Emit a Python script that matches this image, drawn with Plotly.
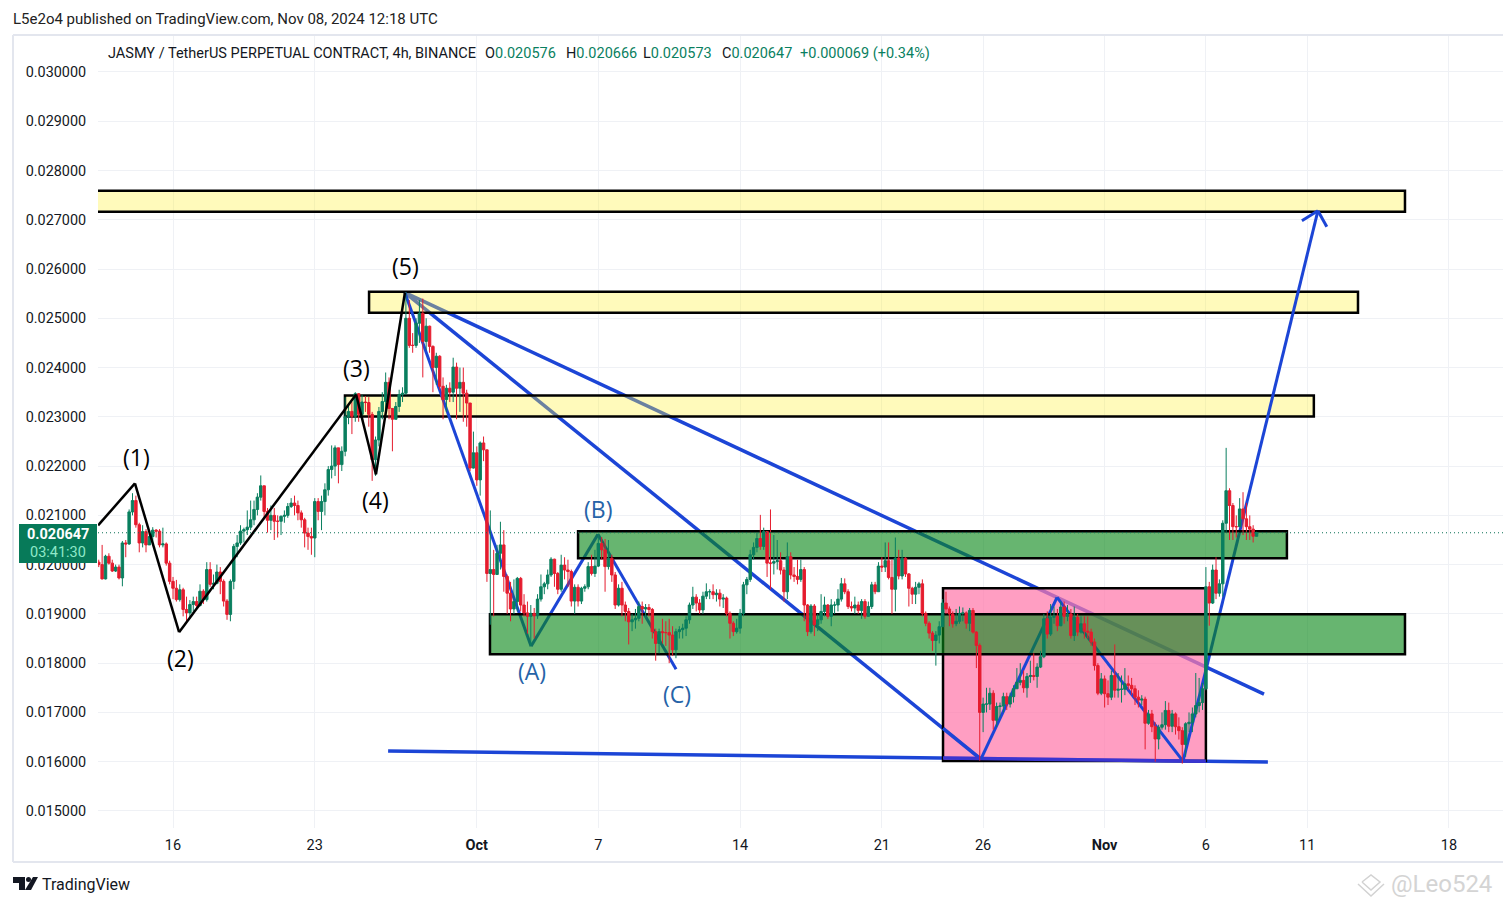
import pandas as pd
import plotly.graph_objects as go

# 4h bars, Sep 12 08:00 to Nov 8 12:00, in millionths of USDT. Each bar opens at the previous close.
first_open = 20050
closes = [
 20000,19710,20170,20030,
 19870,19950,19730,20440,20420,21070,
 21300,20810,20440,20670,20400,20570,
 20700,20680,20400,20420,20030,19660,
 19520,19290,19490,19090,19020,19190,
 19250,19170,19460,19290,19900,19600,
 19620,19850,19660,19260,18990,19660,
 20370,20440,20680,20710,20760,20910,
 21120,21370,21600,21080,20900,21000,
 20880,20880,20980,21000,21180,21250,
 21200,21050,20910,20640,20570,20540,
 21280,21080,21280,21520,21930,22000,
 22370,22030,22300,23000,23110,23010,
 23470,23050,23300,23290,23050,22130,
 22530,23110,23310,23700,23170,22950,
 23210,23450,23480,25000,24450,24450,
 24900,25100,24530,24840,24430,24000,
 24230,23620,23350,23580,23500,24010,
 23580,23700,23480,23280,21960,22270,
 21720,22470,22330,19820,19900,19800,
 20230,20400,19760,19420,19100,19250,
 19720,19180,19020,18950,19010,18960,
 19300,19550,19610,19790,20110,19820,
 19500,19990,19890,19860,19260,19540,
 19260,19520,19550,19960,19820,19970,
 20430,20300,19960,20130,19790,19180,
 19520,19180,19050,18840,18880,18910,
 19150,19100,19130,19090,18640,18400,
 18640,18620,18620,18570,18270,18640,
 18680,18710,18880,19180,19340,19220,
 19080,19360,19450,19450,19390,19420,
 19300,19320,19010,18810,18640,18710,
 19010,19590,19700,20200,20350,20530,
 20370,20670,20030,20030,20060,20080,
 19890,19450,20160,19790,19760,19700,
 19900,19180,18640,19160,18780,18880,
 19050,19180,18950,19180,19180,19300,
 19610,19450,19150,19120,19180,19070,
 19250,18950,19150,19590,19450,19970,
 19950,20080,19740,19500,20130,19770,
 20130,19810,19520,19400,19540,19610,
 19010,18810,18610,18460,18570,18740,
 19220,19100,19000,18800,18850,19010,
 19020,18810,19070,18630,18360,17000,
 17170,17170,17390,16840,17120,17130,
 17320,17170,17320,17480,17610,17650,
 17500,17730,17750,17730,17920,18130,
 18900,18590,18930,18950,18760,19140,
 18950,19000,18560,18930,18630,18800,
 18650,18630,18430,17950,17390,17680,
 17380,17310,17750,17450,17470,17470,
 17580,17550,17480,17310,17250,17270,
 16780,16970,16710,16460,16700,16750,
 17040,16720,16970,16710,16630,16350,
 16770,16800,16970,17140,17200,17480,
 19550,19220,19890,19420,19610,20840,
 21500,21200,20770,20770,21130,20930,
 20770,20720,20576,20647,
]
highs = [
 20100,20400,20200,20230,
 20100,20000,20000,20480,20500,21120,
 21450,21400,20850,20800,20720,20700,
 20760,20720,20720,20750,20450,20080,
 19750,19690,19600,19530,19350,19280,
 19350,19350,19600,19500,20050,20050,
 19800,20000,19950,19700,19300,19700,
 20420,20600,20800,20750,21100,21300,
 21300,21450,21810,21600,21150,21200,
 21150,21000,21000,21100,21250,21350,
 21400,21300,21100,20950,20750,20750,
 21350,21350,21400,21650,22000,22420,
 22420,22350,22400,23400,23280,23300,
 23500,23480,23450,23420,23400,23100,
 22600,23200,23500,23900,23800,23100,
 23300,23550,23600,25530,25370,24700,
 25000,25370,25400,25000,24850,24450,
 24300,24250,23800,23650,23700,24200,
 24100,24000,24000,23550,23250,22700,
 22400,22500,22600,22300,21100,20300,
 20400,20870,20700,19800,19650,19700,
 19750,19750,19400,19250,19180,19120,
 19400,19800,19650,19900,20150,20120,
 19850,20200,20150,20100,19900,19600,
 19600,19550,19600,20050,20200,20300,
 20620,20560,20520,20500,20200,19850,
 19600,19650,19250,19120,19000,19100,
 19250,19250,19200,19200,19120,18700,
 18700,18900,18850,18900,18750,18700,
 18750,18800,18950,19230,19550,19400,
 19300,19450,19620,19500,19600,19500,
 19500,19400,19350,19050,18850,18900,
 19100,19650,19750,20300,20450,20650,
 21010,20750,20670,21120,20600,20500,
 20250,19950,20450,20250,19950,20100,
 20100,19950,19200,19200,19200,19000,
 19400,19350,19200,19300,19250,19500,
 19730,19720,19500,19250,19350,19250,
 19300,19300,19250,19650,19650,20050,
 20150,20450,20450,20100,20550,20300,
 20300,20150,19830,19550,19650,19650,
 19700,19050,18850,18650,18650,18850,
 19300,19450,19150,19050,19100,19150,
 19130,19050,19120,19120,18650,18400,
 17300,17500,17500,17450,17200,17200,
 17400,17400,17400,17550,17900,18000,
 17850,17800,18050,18200,18000,18250,
 19000,19050,19200,19150,19100,19250,
 19250,19180,19100,19150,19000,18950,
 18950,18950,18700,18500,18000,17800,
 17750,17650,17850,18380,17800,17750,
 17900,17750,17700,17550,17450,17350,
 17320,17050,17050,16800,16750,17000,
 17230,17200,17050,17000,16900,16700,
 16800,17000,17100,17800,17700,17600,
 19950,19650,20000,20150,19700,20900,
 22370,21550,21250,21000,21350,21470,
 21250,21000,20800,20666,
]
lows = [
 19950,19700,19700,20000,
 19850,19850,19700,19560,20150,20400,
 21000,20750,20250,20350,20250,20400,
 20400,20550,20350,20350,19980,19600,
 19300,19250,19250,18950,18800,18900,
 19050,19100,19150,19200,19250,19550,
 19500,19600,19400,19150,18880,18850,
 19500,20150,20400,20450,20600,20700,
 20800,21000,21300,20950,20650,20700,
 20500,20550,20600,20850,20950,21150,
 21000,20900,20750,20350,20300,20200,
 20150,20900,20700,21000,21400,21750,
 21800,21650,21900,22200,22850,22650,
 22900,22900,23000,23100,22800,21700,
 21800,22400,22950,23100,22950,22300,
 22950,23100,23300,23450,24400,24300,
 24400,24500,23800,24350,24300,23500,
 23650,23550,22950,23100,23300,23300,
 22950,23100,22900,22800,21900,21950,
 21600,21400,22100,19650,18780,18950,
 19800,19900,19450,19000,18850,19000,
 19050,19050,18950,18600,18350,18500,
 18900,19250,19400,19500,19750,19550,
 19400,19450,19700,19550,19150,19000,
 19150,19200,19450,19500,19780,19750,
 19950,20100,19450,19900,19650,19100,
 19150,18950,18850,18380,18650,18700,
 18850,18800,18900,18950,18500,18050,
 18200,18400,18350,18000,18150,18100,
 18500,18500,18550,18800,19100,19050,
 19000,19000,19300,19300,19300,19250,
 19150,19120,18950,18500,18550,18600,
 18600,18950,19400,19650,20100,20250,
 20300,20300,19750,19500,19800,19900,
 19800,19250,19300,19700,19650,19600,
 19650,18850,18550,18600,18550,18650,
 18800,18950,18900,18750,19000,19050,
 19250,19400,19100,19050,19000,19000,
 18900,18900,19000,19100,19400,19450,
 19850,19850,19700,19000,19050,19700,
 19700,19750,19150,19200,19200,19400,
 18950,18750,18500,18250,17950,18400,
 18750,19000,18750,18720,18750,18800,
 18850,18700,18650,18600,17900,16020,
 16600,17000,17050,16650,16700,16900,
 17000,17050,17100,17200,17500,17550,
 17400,17300,17600,17650,17500,17900,
 18100,18500,18550,18800,18650,18750,
 18800,18850,18500,18450,18550,18600,
 18500,18500,18350,17850,17350,17350,
 17100,17150,17250,17300,17300,17200,
 17350,17450,17350,17150,17100,17150,
 16250,16750,16600,16000,16250,16650,
 16650,16600,16600,16550,16450,15960,
 16100,16600,16600,16900,17000,17050,
 17450,18760,19200,19300,19350,19350,
 20650,20500,20500,20550,20800,20600,
 20500,20500,20450,20573,
]
tick_days = ["2024-09-16","2024-09-23","2024-10-01","2024-10-07","2024-10-14","2024-10-21",
             "2024-10-26","2024-11-01","2024-11-06","2024-11-11","2024-11-18"]
tick_labels = ["16","23","<b>Oct</b>","7","14","21","26","<b>Nov</b>","6","11","18"]
price_ticks = [0.015,0.016,0.017,0.018,0.019,0.020,0.021,0.022,0.023,0.024,0.025,0.026,0.027,0.028,0.029,0.030]
last_price = 0.020647

# Analyst drawings: x in days after Sep 16, y in price
wave_x = [-3.70,-1.88,0.30,9.04,10.02,11.45]
wave_y = [0.020797,0.021648,0.018628,0.023452,0.021831,0.025520]
abc_x = [11.45,17.68,20.98,24.84]
abc_y = [0.025520,0.018344,0.020614,0.017878]
abc2_x = [39.89,43.65,49.87,51.05,56.53]
abc2_y = [0.016053,0.019337,0.016013,0.017938,0.027182]
long_lines = [(11.45,0.025520,53.87,0.017371),(11.45,0.025520,39.89,0.016053),(10.62,0.016215,54.06,0.015993)]
# parts of the long lines that show above the pink zone
diagonal_in_pink = (38.02,0.016676,39.89,0.016053)
support_in_pink = (38.02,0.016075,51.0,0.016009)
arrow_head = [(55.74,0.026980,56.53,0.027182),(56.97,0.026858,56.53,0.027182)]
yellow_zones = [(-8,60.83,0.027588,0.027162),(9.68,58.51,0.025540,0.025115),(8.49,56.33,0.023432,0.023006)]
green_zones = [(20.0,55.0,0.020675,0.020128),(15.65,60.83,0.018993,0.018182)]
pink_zone = (38.02,51.0,0.019520,0.016013)
wave_labels = [("(1)",-1.78,0.022175),("(2)",0.35,0.018100),("(3)",9.04,0.024000),("(4)",10.02,0.021320),("(5)",11.50,0.026067)]
abc_labels = [("(A)",17.73,0.017837),("(B)",20.98,0.021120),("(C)",24.88,0.017370)]

BASE = pd.Timestamp("2024-09-16")
def D(d):
    return BASE + pd.Timedelta(days=d)

UP, DOWN = "#0A7F5F", "#E51C2E"
BLUE, LBL_BLUE = "#1C45D6", "#2563A8"
times = pd.date_range("2024-09-12 08:00", periods=len(closes), freq="4h")
c = [v/1e6 for v in closes]
o = [first_open/1e6] + c[:-1]
h = [max(v/1e6, a, b) for v, a, b in zip(highs, o, c)]
l = [min(v/1e6, a, b) for v, a, b in zip(lows, o, c)]

fig = go.Figure(go.Candlestick(
    x=times, open=o, high=h, low=l, close=c, whiskerwidth=0,
    increasing=dict(line=dict(color=UP, width=1), fillcolor=UP),
    decreasing=dict(line=dict(color=DOWN, width=1), fillcolor=DOWN),
    showlegend=False, hoverinfo="skip"))

shapes = []
def seg(x0, y0, x1, y1, color, width, layer="between"):
    shapes.append(dict(type="line", x0=D(x0), y0=y0, x1=D(x1), y1=y1, xref="x", yref="y",
                       line=dict(color=color, width=width), layer=layer))
def rect(z, fill):
    shapes.append(dict(type="rect", x0=D(z[0]), x1=D(z[1]), y0=z[2], y1=z[3], xref="x", yref="y",
                       fillcolor=fill, line=dict(color="#000000", width=2.5), layer="between"))

for a in long_lines:
    seg(*a, BLUE, 3.5)
for z in yellow_zones:
    rect(z, "rgba(255,240,60,0.35)")
rect(pink_zone, "rgba(255,120,170,0.72)")
seg(*diagonal_in_pink, BLUE, 3.5)
seg(*support_in_pink, "#3A35D0", 3.5)
for xs, ys in ((abc_x, abc_y), (abc2_x, abc2_y)):
    for i in range(len(xs)-1):
        seg(xs[i], ys[i], xs[i+1], ys[i+1], BLUE, 3)
for a in arrow_head:
    seg(*a, BLUE, 3)
for z in green_zones:
    rect(z, "rgba(10,135,25,0.62)")
for i in range(len(wave_x)-1):
    seg(wave_x[i], wave_y[i], wave_x[i+1], wave_y[i+1], "#000000", 2.5, "above")
shapes.append(dict(type="line", x0=0, x1=1, xref="paper", y0=last_price, y1=last_price, yref="y",
                   line=dict(color="#0A6F55", width=1, dash="1px,3px"), layer="above"))

# Page furniture placed in page pixels
def PX(x): return (x-98)/1405
def PY(y): return (828-y)/(828-36)
def frame(x0, y0, x1, y1):
    shapes.append(dict(type="line", xref="paper", yref="paper", x0=PX(x0), x1=PX(x1), y0=PY(y0), y1=PY(y1),
                       line=dict(color="#E3E6EE", width=2), layer="below"))
frame(13,35,1503,35); frame(13,35,13,862); frame(13,862,1503,862)
shapes.append(dict(type="rect", xref="paper", yref="paper", x0=PX(19), x1=PX(97), y0=PY(524), y1=PY(563),
                   fillcolor="#077A59", line=dict(width=0), layer="above"))
def path(pts, fill=None, line=None, width=0):
    d = "M " + " L ".join(f"{PX(x)} {PY(y)}" for x, y in pts)
    if fill: d += " Z"
    shapes.append(dict(type="path", path=d, xref="paper", yref="paper",
                       fillcolor=fill or "rgba(0,0,0,0)", line=dict(color=line or "rgba(0,0,0,0)", width=width), layer="above"))
path([(13,877),(25,877),(25,890),(19,890),(19,883),(13,883)], "#131722")
path([(33,877),(38,877),(31,890),(25,890)], "#131722")
shapes.append(dict(type="circle", xref="paper", yref="paper", x0=PX(26), x1=PX(31), y0=PY(877), y1=PY(882),
                   fillcolor="#131722", line=dict(width=0), layer="above"))
path([(1358,884),(1371,896),(1384,884)], None, "#D2D2D2", 1.5)
path([(1362,882),(1371,890),(1380,882),(1371,875),(1362,882)], None, "#D2D2D2", 1.5)

FONT = "Roboto, sans-serif"
LFONT = "Open Sans, sans-serif"
ann = []
def paper_text(x, y, text, size, color, anchor="left"):
    ann.append(dict(xref="paper", yref="paper", x=PX(x), y=PY(y), text=text, showarrow=False, xanchor=anchor,
                    yanchor="middle", align=anchor, font=dict(family=FONT, size=size, color=color)))
for t, x, y in wave_labels:
    ann.append(dict(x=D(x), y=y, text=t, showarrow=False, font=dict(family=LFONT, size=23, color="#000000")))
for t, x, y in abc_labels:
    ann.append(dict(x=D(x), y=y, text=t, showarrow=False, font=dict(family=LFONT, size=23, color=LBL_BLUE)))
paper_text(11, 19, "L5e2o4 published on TradingView.com, Nov 08, 2024 12:18 UTC", 15, "#222222")
paper_text(106, 54, "JASMY / TetherUS PERPETUAL CONTRACT, 4h, BINANCE", 14.5, "#131722")
for x, lab, val in ((483,"O","0.020576"),(564,"H","0.020666"),(641,"L","0.020573"),(720,"C","0.020647")):
    paper_text(x, 54, f"{lab}<span style='color:{UP}'>{val}</span>", 14.5, "#131722")
paper_text(798, 54, "+0.000069 (+0.34%)", 14.5, UP)
paper_text(58, 534, "<b>0.020647</b>", 14.5, "#FFFFFF", "center")
paper_text(58, 552, "03:41:30", 14.5, "#8FE8C8", "center")
paper_text(40, 884, "TradingView", 16, "#131722")
paper_text(1389, 884, "@Leo524", 24, "#D4D4D4")

fig.update_layout(
    width=1503, height=906, autosize=False, paper_bgcolor="#FFFFFF", plot_bgcolor="#FFFFFF",
    margin=dict(l=98, r=0, t=36, b=78), showlegend=False, shapes=shapes, annotations=ann,
    font=dict(family=FONT, size=14, color="#131722"), boxgap=0.15, boxgroupgap=0.15,
    xaxis=dict(type="date", range=[D(-3.704), D(65.67)], rangeslider=dict(visible=False),
               tickmode="array", tickvals=tick_days, ticktext=tick_labels,
               showgrid=True, gridcolor="#EFF1F5", gridwidth=1, zeroline=False, showline=False,
               ticks="outside", ticklen=4, tickcolor="rgba(0,0,0,0)", tickfont=dict(size=14.5, color="#131722")),
    yaxis=dict(range=[0.014654, 0.030730], tickmode="array", tickvals=price_ticks,
               tickformat=".6f", showgrid=True, gridcolor="#EFF1F5", gridwidth=1, zeroline=False, showline=False,
               ticks="outside", ticklen=8, tickcolor="rgba(0,0,0,0)", tickfont=dict(size=14.4, color="#131722")),
)
assert len(closes) == len(highs) == len(lows) == 344
fig.write_html("out.html", config=dict(displayModeBar=False), post_script="document.body.style.margin='0';")
